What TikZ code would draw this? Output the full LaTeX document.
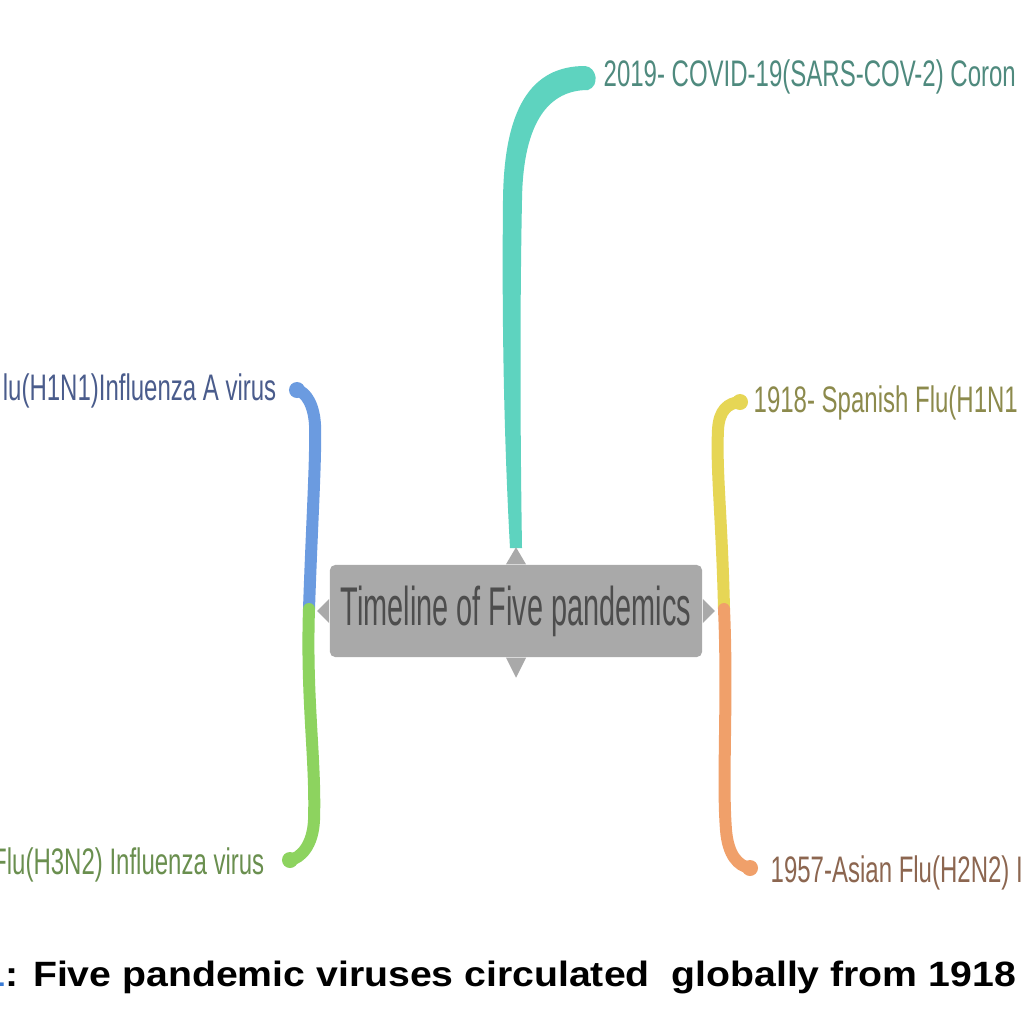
\documentclass[tikz,border=0pt]{standalone}
\usepackage{fontspec}
\setmainfont{Liberation Sans}
\newfontfamily\labelfont[FakeStretch=0.65]{Liberation Sans}
\newfontfamily\hubfont[FakeStretch=0.53]{Liberation Sans}
\newfontfamily\capfont[FakeStretch=1.115]{Liberation Sans}
\definecolor{tealbr}{HTML}{5ED3BF}
\definecolor{bluebr}{HTML}{6B9BE0}
\definecolor{greenbr}{HTML}{8DD35F}
\definecolor{yellowbr}{HTML}{E6D655}
\definecolor{orangebr}{HTML}{F0A06A}
\definecolor{tealtxt}{HTML}{4F8A7E}
\definecolor{bluetxt}{HTML}{4A5C8C}
\definecolor{greentxt}{HTML}{6A8F4F}
\definecolor{yellowtxt}{HTML}{8C8A4C}
\definecolor{orangetxt}{HTML}{8C6650}
\definecolor{hubgray}{HTML}{A9A9A9}
\definecolor{hubtxt}{HTML}{4D4D4D}
\definecolor{capblue}{HTML}{3A7BD5}
\begin{document}
\begin{tikzpicture}[x=0.01cm, y=-0.01cm]
    \useasboundingbox (0,0) rectangle (1024,1024);
    \fill[white] (0,0) rectangle (1024,1024);

    \begin{scope}[every node/.style={inner sep=0pt, font=\labelfont\fontsize{10.5}{12}\selectfont}]
        \coordinate (covidtip) at (588,78);
        \coordinate (swinetip) at (297,390);
        \coordinate (hktip) at (290,860);
        \coordinate (spanishtip) at (740,402);
        \coordinate (asiantip) at (750,868);
        \coordinate (lefthub) at (309,609);
        \coordinate (righthub) at (724,609);
        \coordinate (tophub) at (516,548);

        \node[text=tealtxt, anchor=base west] (covid) at (603,87) {2019- COVID-19(SARS-COV-2) Coron};
        \node[text=bluetxt, anchor=base east] (swine) at (277,400) {lu(H1N1)Influenza A virus};
        \node[text=greentxt, anchor=base east] (hongkong) at (265,874) {Flu(H3N2) Influenza virus};
        \node[text=yellowtxt, anchor=base west] (spanish) at (753,412) {1918- Spanish Flu(H1N1};
        \node[text=orangetxt, anchor=base west] (asian) at (770,882) {1957-Asian Flu(H2N2) I};
    \end{scope}

    \begin{scope}[line width=0.12cm, line cap=round]
        % covid branch gets wider towards its tip
        \fill[tealbr] ([xshift=-0.06cm]tophub) .. controls (503,420) and (502,300) .. (503,200)
            .. controls (504,110) and (530,66) .. (585,66)
            .. controls (597,67) and (600,86) .. (588,90)
            .. controls (550,90) and (523,120) .. (522,200)
            .. controls (520,300) and (520,420) .. ([xshift=0.06cm]tophub) -- cycle;
        \draw[bluebr] (lefthub) .. controls (312,520) and (316,460) .. (315,425)
            .. controls (314,405) and (306,392) .. (swinetip);
        \draw[greenbr] (lefthub) .. controls (306,700) and (316,760) .. (314,820)
            .. controls (313,845) and (301,858) .. (hktip);
        \draw[yellowbr] (righthub) .. controls (722,520) and (716,470) .. (718,430)
            .. controls (719,410) and (728,403) .. (spanishtip);
        \draw[orangebr] (righthub) .. controls (728,700) and (722,780) .. (726,830)
            .. controls (728,855) and (738,866) .. (asiantip);
        \fill[bluebr] (swinetip) circle (0.08cm);
        \fill[greenbr] (hktip) circle (0.08cm);
        \fill[yellowbr] (spanishtip) circle (0.08cm);
        \fill[orangebr] (asiantip) circle (0.08cm);
    \end{scope}

    \node[fill=hubgray, text=hubtxt, rounded corners=1.5pt, minimum width=3.72cm, minimum height=0.92cm,
        inner sep=0pt, font=\hubfont\fontsize{15.5}{18}\selectfont] (hub) at (516,611) {Timeline of Five pandemics};
    \fill[hubgray] ([xshift=-0.1cm]hub.north) -- ([yshift=0.17cm]hub.north) -- ([xshift=0.1cm]hub.north) -- cycle;
    \fill[hubgray] ([xshift=-0.1cm]hub.south) -- ([yshift=-0.2cm]hub.south) -- ([xshift=0.1cm]hub.south) -- cycle;
    \fill[hubgray] ([yshift=-0.12cm]hub.west) -- ([xshift=-0.12cm]hub.west) -- ([yshift=0.12cm]hub.west) -- cycle;
    \fill[hubgray] ([yshift=-0.12cm]hub.east) -- ([xshift=0.12cm]hub.east) -- ([yshift=0.12cm]hub.east) -- cycle;

    \node[anchor=base west, inner sep=0pt, font=\capfont\bfseries\fontsize{10}{12}\selectfont] (caption) at (-17,986)
        {{\color{capblue}1}: Five pandemic viruses circulated \ globally from 1918};
\end{tikzpicture}
\end{document}
